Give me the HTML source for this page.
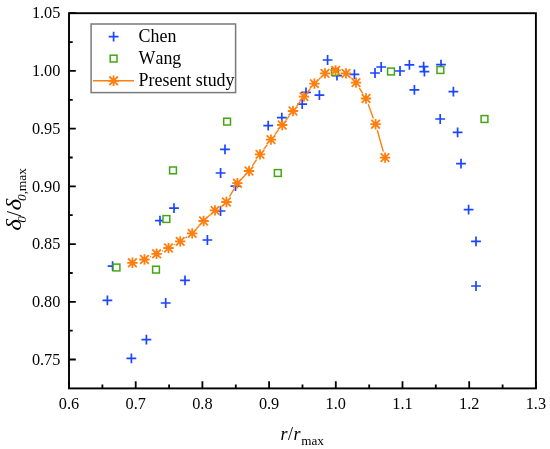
<!DOCTYPE html>
<html><head><meta charset="utf-8"><title>chart</title>
<style>html,body{margin:0;padding:0;background:#fff}svg{display:block}text{font-family:"Liberation Serif",serif;fill:#000;font-kerning:none}</style></head><body>
<svg width="550" height="449" viewBox="0 0 550 449">
<rect width="550" height="449" fill="#fff"/>
<path d="M69.0 13.2H75.8M69.0 70.9H75.8M69.0 128.6H75.8M69.0 186.4H75.8M69.0 244.1H75.8M69.0 301.8H75.8M69.0 359.5H75.8M69.0 42.1H72.7M69.0 99.8H72.7M69.0 157.5H72.7M69.0 215.2H72.7M69.0 273.0H72.7M69.0 330.7H72.7M69.0 388.4V381.2M135.7 388.4V381.2M202.4 388.4V381.2M269.1 388.4V381.2M335.8 388.4V381.2M402.5 388.4V381.2M469.2 388.4V381.2M535.9 388.4V381.2M102.4 388.4V384.6M169.1 388.4V384.6M235.8 388.4V384.6M302.5 388.4V384.6M369.2 388.4V384.6M435.8 388.4V384.6M502.6 388.4V384.6" stroke="#000" stroke-width="1.8" fill="none"/>
<g>
<path d="M102.5 300.4H112.3M107.4 295.5V305.3" stroke="#1a46ff" stroke-width="1.7" fill="none"/>
<path d="M107.7 266.2H117.5M112.6 261.3V271.1" stroke="#1a46ff" stroke-width="1.7" fill="none"/>
<path d="M126.5 358.4H136.3M131.4 353.5V363.3" stroke="#1a46ff" stroke-width="1.7" fill="none"/>
<path d="M141.5 339.6H151.3M146.4 334.7V344.5" stroke="#1a46ff" stroke-width="1.7" fill="none"/>
<path d="M155.1 220.6H164.9M160.0 215.7V225.5" stroke="#1a46ff" stroke-width="1.7" fill="none"/>
<path d="M160.8 303.0H170.6M165.7 298.1V307.9" stroke="#1a46ff" stroke-width="1.7" fill="none"/>
<path d="M169.1 208.2H178.9M174.0 203.3V213.1" stroke="#1a46ff" stroke-width="1.7" fill="none"/>
<path d="M180.1 280.4H189.9M185.0 275.5V285.3" stroke="#1a46ff" stroke-width="1.7" fill="none"/>
<path d="M202.5 240.0H212.3M207.4 235.1V244.9" stroke="#1a46ff" stroke-width="1.7" fill="none"/>
<path d="M215.7 173.0H225.5M220.6 168.1V177.9" stroke="#1a46ff" stroke-width="1.7" fill="none"/>
<path d="M220.1 149.3H229.9M225.0 144.4V154.2" stroke="#1a46ff" stroke-width="1.7" fill="none"/>
<path d="M215.6 211.0H225.4M220.5 206.1V215.9" stroke="#1a46ff" stroke-width="1.7" fill="none"/>
<path d="M230.6 186.2H240.4M235.5 181.3V191.1" stroke="#1a46ff" stroke-width="1.7" fill="none"/>
<path d="M263.3 125.6H273.1M268.2 120.7V130.5" stroke="#1a46ff" stroke-width="1.7" fill="none"/>
<path d="M276.9 117.6H286.7M281.8 112.7V122.5" stroke="#1a46ff" stroke-width="1.7" fill="none"/>
<path d="M297.3 104.2H307.1M302.2 99.3V109.1" stroke="#1a46ff" stroke-width="1.7" fill="none"/>
<path d="M301.1 92.4H310.9M306.0 87.5V97.3" stroke="#1a46ff" stroke-width="1.7" fill="none"/>
<path d="M314.5 95.2H324.3M319.4 90.3V100.1" stroke="#1a46ff" stroke-width="1.7" fill="none"/>
<path d="M322.7 60.0H332.5M327.6 55.1V64.9" stroke="#1a46ff" stroke-width="1.7" fill="none"/>
<path d="M332.1 75.6H341.9M337.0 70.7V80.5" stroke="#1a46ff" stroke-width="1.7" fill="none"/>
<path d="M349.5 74.4H359.3M354.4 69.5V79.3" stroke="#1a46ff" stroke-width="1.7" fill="none"/>
<path d="M370.1 73.0H379.9M375.0 68.1V77.9" stroke="#1a46ff" stroke-width="1.7" fill="none"/>
<path d="M376.3 67.0H386.1M381.2 62.1V71.9" stroke="#1a46ff" stroke-width="1.7" fill="none"/>
<path d="M395.1 71.0H404.9M400.0 66.1V75.9" stroke="#1a46ff" stroke-width="1.7" fill="none"/>
<path d="M404.5 64.8H414.3M409.4 59.9V69.7" stroke="#1a46ff" stroke-width="1.7" fill="none"/>
<path d="M409.5 89.8H419.3M414.4 84.9V94.7" stroke="#1a46ff" stroke-width="1.7" fill="none"/>
<path d="M418.7 66.6H428.5M423.6 61.7V71.5" stroke="#1a46ff" stroke-width="1.7" fill="none"/>
<path d="M419.5 71.6H429.3M424.4 66.7V76.5" stroke="#1a46ff" stroke-width="1.7" fill="none"/>
<path d="M436.1 64.6H445.9M441.0 59.7V69.5" stroke="#1a46ff" stroke-width="1.7" fill="none"/>
<path d="M435.3 119.0H445.1M440.2 114.1V123.9" stroke="#1a46ff" stroke-width="1.7" fill="none"/>
<path d="M448.5 91.6H458.3M453.4 86.7V96.5" stroke="#1a46ff" stroke-width="1.7" fill="none"/>
<path d="M452.7 132.4H462.5M457.6 127.5V137.3" stroke="#1a46ff" stroke-width="1.7" fill="none"/>
<path d="M456.1 163.6H465.9M461.0 158.7V168.5" stroke="#1a46ff" stroke-width="1.7" fill="none"/>
<path d="M463.7 209.6H473.5M468.6 204.7V214.5" stroke="#1a46ff" stroke-width="1.7" fill="none"/>
<path d="M471.1 241.4H480.9M476.0 236.5V246.3" stroke="#1a46ff" stroke-width="1.7" fill="none"/>
<path d="M471.1 286.0H480.9M476.0 281.1V290.9" stroke="#1a46ff" stroke-width="1.7" fill="none"/>
</g><g>
<rect x="113.1" y="264.1" width="6.8" height="6.8" stroke="#42a612" stroke-width="1.5" fill="#fff"/>
<rect x="152.6" y="266.2" width="6.8" height="6.8" stroke="#42a612" stroke-width="1.5" fill="#fff"/>
<rect x="163.0" y="215.6" width="6.8" height="6.8" stroke="#42a612" stroke-width="1.5" fill="#fff"/>
<rect x="169.6" y="167.0" width="6.8" height="6.8" stroke="#42a612" stroke-width="1.5" fill="#fff"/>
<rect x="223.7" y="118.2" width="6.8" height="6.8" stroke="#42a612" stroke-width="1.5" fill="#fff"/>
<rect x="274.4" y="169.6" width="6.8" height="6.8" stroke="#42a612" stroke-width="1.5" fill="#fff"/>
<rect x="331.6" y="68.6" width="6.8" height="6.8" stroke="#42a612" stroke-width="1.5" fill="#fff"/>
<rect x="387.6" y="68.1" width="6.8" height="6.8" stroke="#42a612" stroke-width="1.5" fill="#fff"/>
<rect x="437.0" y="66.6" width="6.8" height="6.8" stroke="#42a612" stroke-width="1.5" fill="#fff"/>
<rect x="481.1" y="115.6" width="6.8" height="6.8" stroke="#42a612" stroke-width="1.5" fill="#fff"/>
</g><g>
<path d="M150.1 256.9L151.0 256.4M162.2 251.1L162.9 250.7M173.9 245.0L174.8 244.4M185.4 238.0L187.0 236.8M196.4 228.8L199.4 225.6M208.1 216.8L210.5 214.6M220.0 206.7L221.4 205.7M229.5 196.6L234.3 188.6M241.7 178.7L244.7 175.5M252.4 165.8L256.6 159.6M263.7 149.4L267.3 144.6M274.8 134.7L278.4 129.9M286.0 120.1L289.2 115.9M296.8 106.1L300.2 101.5M307.9 91.8L310.5 88.4M318.9 79.3L320.5 77.7M350.6 77.6L351.4 78.4M359.3 87.8L362.7 93.3M368.2 104.3L373.4 118.4M377.3 130.2L383.3 151.6" stroke="#ff7f0e" stroke-width="1.4" fill="none"/>
<path d="M127.2 262.8H137.6M132.4 257.6V268.0M128.1 258.5L136.7 267.1M128.1 267.1L136.7 258.5" stroke="#ff7f0e" stroke-width="1.8" fill="none"/>
<path d="M139.3 259.5H149.7M144.5 254.3V264.7M140.2 255.2L148.8 263.8M140.2 263.8L148.8 255.2" stroke="#ff7f0e" stroke-width="1.8" fill="none"/>
<path d="M151.4 253.8H161.8M156.6 248.6V259.0M152.3 249.5L160.9 258.1M152.3 258.1L160.9 249.5" stroke="#ff7f0e" stroke-width="1.8" fill="none"/>
<path d="M163.3 248.0H173.7M168.5 242.8V253.2M164.2 243.7L172.8 252.3M164.2 252.3L172.8 243.7" stroke="#ff7f0e" stroke-width="1.8" fill="none"/>
<path d="M175.0 241.4H185.4M180.2 236.2V246.6M175.9 237.1L184.5 245.7M175.9 245.7L184.5 237.1" stroke="#ff7f0e" stroke-width="1.8" fill="none"/>
<path d="M187.0 233.4H197.4M192.2 228.2V238.6M187.9 229.1L196.5 237.7M187.9 237.7L196.5 229.1" stroke="#ff7f0e" stroke-width="1.8" fill="none"/>
<path d="M198.4 221.0H208.8M203.6 215.8V226.2M199.3 216.7L207.9 225.3M199.3 225.3L207.9 216.7" stroke="#ff7f0e" stroke-width="1.8" fill="none"/>
<path d="M209.8 210.4H220.2M215.0 205.2V215.6M210.7 206.1L219.3 214.7M210.7 214.7L219.3 206.1" stroke="#ff7f0e" stroke-width="1.8" fill="none"/>
<path d="M221.2 202.0H231.6M226.4 196.8V207.2M222.1 197.7L230.7 206.3M222.1 206.3L230.7 197.7" stroke="#ff7f0e" stroke-width="1.8" fill="none"/>
<path d="M232.2 183.2H242.6M237.4 178.0V188.4M233.1 178.9L241.7 187.5M233.1 187.5L241.7 178.9" stroke="#ff7f0e" stroke-width="1.8" fill="none"/>
<path d="M243.8 171.0H254.2M249.0 165.8V176.2M244.7 166.7L253.3 175.3M244.7 175.3L253.3 166.7" stroke="#ff7f0e" stroke-width="1.8" fill="none"/>
<path d="M254.8 154.4H265.2M260.0 149.2V159.6M255.7 150.1L264.3 158.7M255.7 158.7L264.3 150.1" stroke="#ff7f0e" stroke-width="1.8" fill="none"/>
<path d="M265.8 139.6H276.2M271.0 134.4V144.8M266.7 135.3L275.3 143.9M266.7 143.9L275.3 135.3" stroke="#ff7f0e" stroke-width="1.8" fill="none"/>
<path d="M277.0 125.0H287.4M282.2 119.8V130.2M277.9 120.7L286.5 129.3M277.9 129.3L286.5 120.7" stroke="#ff7f0e" stroke-width="1.8" fill="none"/>
<path d="M287.8 111.0H298.2M293.0 105.8V116.2M288.7 106.7L297.3 115.3M288.7 115.3L297.3 106.7" stroke="#ff7f0e" stroke-width="1.8" fill="none"/>
<path d="M298.8 96.6H309.2M304.0 91.4V101.8M299.7 92.3L308.3 100.9M299.7 100.9L308.3 92.3" stroke="#ff7f0e" stroke-width="1.8" fill="none"/>
<path d="M309.2 83.6H319.6M314.4 78.4V88.8M310.1 79.3L318.7 87.9M310.1 87.9L318.7 79.3" stroke="#ff7f0e" stroke-width="1.8" fill="none"/>
<path d="M319.8 73.4H330.2M325.0 68.2V78.6M320.7 69.1L329.3 77.7M320.7 77.7L329.3 69.1" stroke="#ff7f0e" stroke-width="1.8" fill="none"/>
<path d="M330.4 70.4H340.8M335.6 65.2V75.6M331.3 66.1L339.9 74.7M331.3 74.7L339.9 66.1" stroke="#ff7f0e" stroke-width="1.8" fill="none"/>
<path d="M340.8 73.4H351.2M346.0 68.2V78.6M341.7 69.1L350.3 77.7M341.7 77.7L350.3 69.1" stroke="#ff7f0e" stroke-width="1.8" fill="none"/>
<path d="M350.8 82.6H361.2M356.0 77.4V87.8M351.7 78.3L360.3 86.9M351.7 86.9L360.3 78.3" stroke="#ff7f0e" stroke-width="1.8" fill="none"/>
<path d="M360.8 98.5H371.2M366.0 93.3V103.7M361.7 94.2L370.3 102.8M361.7 102.8L370.3 94.2" stroke="#ff7f0e" stroke-width="1.8" fill="none"/>
<path d="M370.4 124.2H380.8M375.6 119.0V129.4M371.3 119.9L379.9 128.5M371.3 128.5L379.9 119.9" stroke="#ff7f0e" stroke-width="1.8" fill="none"/>
<path d="M379.8 157.6H390.2M385.0 152.4V162.8M380.7 153.3L389.3 161.9M380.7 161.9L389.3 153.3" stroke="#ff7f0e" stroke-width="1.8" fill="none"/>
</g>
<rect x="69.0" y="13.2" width="466.9" height="375.2" fill="none" stroke="#000" stroke-width="1.9"/>
<rect x="91.1" y="24" width="144.5" height="68.6" fill="#fff" stroke="#7a7a7a" stroke-width="1.5"/>
<path d="M108.7 36.6H118.5M113.6 31.7V41.5" stroke="#1a46ff" stroke-width="1.7" fill="none"/>
<rect x="110.2" y="55.2" width="6.8" height="6.8" stroke="#42a612" stroke-width="1.5" fill="#fff"/>
<path d="M93 80.8H134" stroke="#ff7f0e" stroke-width="1.5"/>
<path d="M108.4 80.8H118.8M113.6 75.6V86.0M109.3 76.5L117.9 85.1M109.3 85.1L117.9 76.5" stroke="#ff7f0e" stroke-width="1.8" fill="none"/>
<g font-size="17.9px"><text x="138.6" y="42.3">Chen</text><text x="138.6" y="64.1">Wang</text><text x="138.6" y="86.4">Present study</text></g>
<g font-size="16.3px" text-anchor="end">
<text x="60.4" y="18.4">1.05</text>
<text x="60.4" y="76.1">1.00</text>
<text x="60.4" y="133.8">0.95</text>
<text x="60.4" y="191.6">0.90</text>
<text x="60.4" y="249.3">0.85</text>
<text x="60.4" y="307.0">0.80</text>
<text x="60.4" y="364.7">0.75</text>
</g><g font-size="16.3px" text-anchor="middle">
<text x="69.0" y="409.3">0.6</text>
<text x="135.7" y="409.3">0.7</text>
<text x="202.4" y="409.3">0.8</text>
<text x="269.1" y="409.3">0.9</text>
<text x="335.8" y="409.3">1.0</text>
<text x="402.5" y="409.3">1.1</text>
<text x="469.2" y="409.3">1.2</text>
<text x="535.9" y="409.3">1.3</text>
</g>
<text x="280.6" y="439.5" font-size="18px" letter-spacing="0.45"><tspan font-style="italic">r</tspan>/<tspan font-style="italic">r</tspan></text>
<text x="301.2" y="444.5" font-size="13.2px">max</text>
<g transform="translate(21 230.8) rotate(-90)"><text x="0" y="0" font-size="21px" font-style="italic" transform="scale(1.2 1)">δ</text><text x="8" y="5.3" font-size="13.5px" font-style="italic">0</text><text x="14.4" y="0" font-size="20px">/</text><text x="16.83" y="0" font-size="21px" font-style="italic" transform="scale(1.2 1)">δ</text><text x="29.75" y="5.3" font-size="13.5px" font-style="italic">0</text><text x="36.5" y="5.3" font-size="13.5px">,</text><text x="39.65" y="5.3" font-size="13.5px">max</text></g>
</svg></body></html>
